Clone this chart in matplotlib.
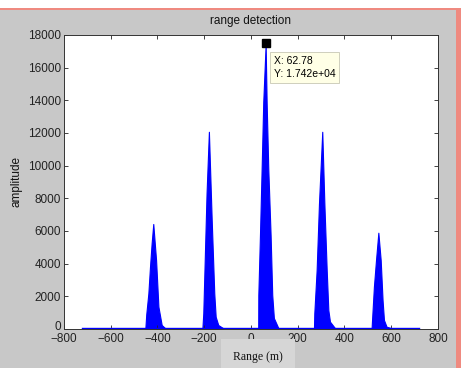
import numpy as np
import matplotlib
matplotlib.use("Agg")
import matplotlib.pyplot as plt
from matplotlib.patches import Rectangle
from matplotlib.transforms import ScaledTranslation

# envelope points (range in m, amplitude)
peak1_x = [-452, -448, -439, -432, -425, -418, -406, -396, -382, -368]
peak1_y = [0, 900, 2180, 3810, 5245, 6430, 4220, 1365, 245, 60]
peak2_x = [-208, -204, -197, -190, -180, -168, -157, -151, -140, -118]
peak2_y = [0, 960, 4630, 8300, 12075, 6670, 2180, 750, 245, 40]
peak3_x = [31, 31.5, 38.5, 45.7, 52.6, 62.78, 67, 74, 84, 91, 98, 117]
peak3_y = [0, 2080, 5750, 9830, 13900, 17420, 13900, 9830, 5750, 2080, 670, 60]
peak4_x = [269.5, 271, 281, 291, 305, 314, 324, 331, 338, 359]
peak4_y = [0, 960, 3610, 7690, 12075, 7690, 3610, 1160, 450, 60]
peak5_x = [516, 518, 526, 535, 545, 555, 563, 569, 580, 602]
peak5_y = [0, 550, 2590, 4220, 5895, 4220, 1775, 550, 140, 40]
peaks = [(peak1_x, peak1_y), (peak2_x, peak2_y), (peak3_x, peak3_y),
         (peak4_x, peak4_y), (peak5_x, peak5_y)]

base_x = [-722, 720]
base_y = [70, 70]

tip_x = 62.78
tip_y = 1.742e4

xticks = [-800, -600, -400, -200, 0, 200, 400, 600, 800]
yticks = [0, 2000, 4000, 6000, 8000, 10000, 12000, 14000, 16000, 18000]

plt.rcParams['font.family'] = ['Liberation Sans', 'DejaVu Sans']

fig = plt.figure(figsize=(4.61, 3.68), dpi=100)
fig.patch.set_facecolor("#c8c8c8")

# white strip at the top and the reddish frame of the screenshot
fig.add_artist(Rectangle((0, 0.978), 1, 0.03, transform=fig.transFigure,
                         facecolor="white", edgecolor="none"))
fig.add_artist(Rectangle((0, 0.973), 1, 0.006, transform=fig.transFigure,
                         facecolor="#ef8a80", edgecolor="none"))
fig.add_artist(Rectangle((0.990, 0), 0.012, 0.979, transform=fig.transFigure,
                         facecolor="#ef8a80", edgecolor="none"))

ax = fig.add_axes([0.1388, 0.106, 0.8112, 0.7989])
ax.set_facecolor("white")

ax.plot(base_x, base_y, color="#0000ff", lw=1.0)
for px, py in peaks:
    ax.fill_between(px, py, 0, color="#0000ff", lw=0.8, edgecolor="#0000ff")

ax.set_xlim(-800, 800)
ax.set_ylim(0, 18000)
ax.set_xticks(xticks)
ax.set_yticks(yticks)
ax.tick_params(direction="in", length=3, width=0.6, top=True, right=True,
               labelsize=8.5, colors="#222222", pad=2)
ax.tick_params(axis="x", pad=3)
for s in ax.spines.values():
    s.set_linewidth(0.7)
    s.set_color("#333333")

# lift the "0" on the y axis a little, as in the original
zero_lab = ax.get_yticklabels()[0]
zero_lab.set_transform(zero_lab.get_transform() +
                       ScaledTranslation(0, 3 / 100, fig.dpi_scale_trans))

ax.set_title("range detection", fontsize=8.5, pad=8, color="#111111")
ax.set_ylabel("amplitude", fontsize=8.5, labelpad=4, color="#111111")
ax.set_xlabel("Range (m)", fontsize=8.5, family=["Liberation Serif", "DejaVu Serif"],
              color="#111111",
              bbox=dict(boxstyle="square,pad=1.0", facecolor="#d6d6d6",
                        edgecolor="none"))
ax.xaxis.set_label_coords(0.519, -0.075)

# data tip
ax.plot([tip_x], [17500], marker="s", color="black", ms=6, clip_on=False)
ax.annotate("X: 62.78\nY: 1.742e+04", xy=(tip_x, 17500), xytext=(6, -9),
            textcoords="offset points", ha="left", va="top", fontsize=7.5,
            linespacing=1.45,
            bbox=dict(boxstyle="square,pad=0.35", facecolor="#ffffe6",
                      edgecolor="#c8c8b4", lw=0.6))

fig.savefig("out.png", dpi=100, facecolor=fig.get_facecolor())
